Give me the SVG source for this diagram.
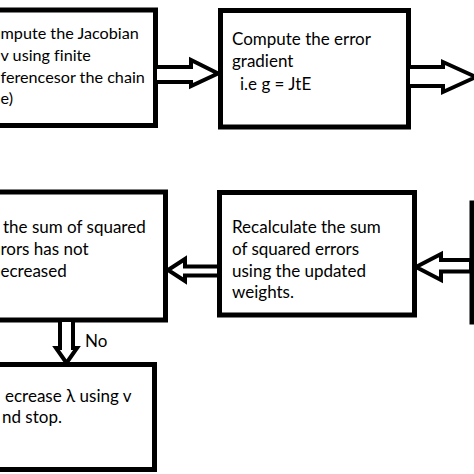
<svg xmlns="http://www.w3.org/2000/svg" width="474" height="474" viewBox="0 0 474 474">
<style>
.box{fill:#fff;stroke:#000;stroke-width:5}
.arr{fill:#fff;stroke:#000;stroke-width:4;stroke-linejoin:miter}
text{font-family:Lato,"Open Sans","Liberation Sans",sans-serif;font-size:17px;fill:#000;font-variant-ligatures:none}
.t1{font-size:16.2px}
</style>
<rect width="474" height="474" fill="#fff"/>
<g id="node-jacobian">
<rect class="box" x="-20" y="10" width="175.5" height="115.5"/>
<text class="t1" x="0.5" y="39">mpute the Jacobian</text>
<text class="t1" x="0.5" y="61">v using finite</text>
<text class="t1" x="0.5" y="83">ferencesor the chain</text>
<text class="t1" x="0.5" y="104">e)</text>
</g>
<g id="node-gradient">
<rect class="box" x="220.5" y="10.5" width="188" height="116.5"/>
<text x="232" y="45">Compute the error</text>
<text x="232" y="67">gradient</text>
<text x="240" y="90">i.e g = JtE</text>
</g>
<g id="node-check">
<rect class="box" x="-20" y="192" width="185.5" height="128"/>
<text x="3" y="233">the sum of squared</text>
<text x="0.5" y="255">rors has not</text>
<text x="0.5" y="277">ecreased</text>
</g>
<g id="node-recalc">
<rect class="box" x="219.5" y="192.5" width="195" height="122.5"/>
<text x="232" y="233">Recalculate the sum</text>
<text x="232" y="255">of squared errors</text>
<text x="232" y="277">using the updated</text>
<text x="232" y="298">weights.</text>
</g>
<g id="node-right">
<rect class="box" x="472" y="203" width="40" height="119"/>
</g>
<g id="node-decrease">
<rect class="box" x="-20" y="364.5" width="174.5" height="105"/>
<text x="5" y="402">ecrease λ using v</text>
<text x="2" y="423">nd stop.</text>
</g>
<g id="connectors">
<polygon class="arr" points="155,67 191,67 191,60 218,73.5 191,86 191,82 155,82"/>
<polygon class="arr" points="408,67 443,67 443,62 476,77 443,92 443,86 408,86"/>
<polygon class="arr" points="219,266.5 185,266.5 185,259 168,270 185,281 185,275.5 219,275.5"/>
<polygon class="arr" points="471,260 441,260 441,254 416,267 441,280 441,271.5 471,271.5"/>
<polygon class="arr" points="60,320 60,348 56,348 66.5,363 77,348 73,348 73,320"/>
<text x="85" y="347">No</text>
</g>
</svg>
